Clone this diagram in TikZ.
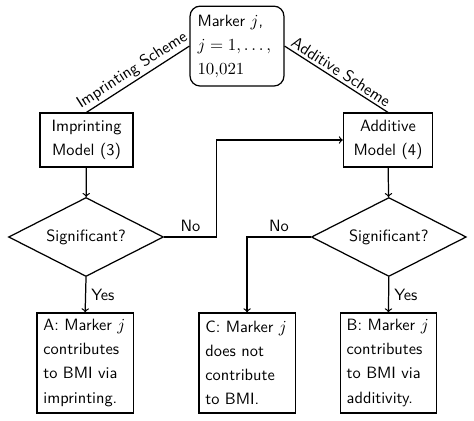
\documentclass[tikz,border=0pt]{standalone}
\usepackage{amsmath}
\usepackage{amssymb}
\usetikzlibrary{shapes.geometric}

\tikzset{
	every node/.style={font=\sffamily\fontsize{10.6}{15.6}\selectfont},
	modelbox/.style={draw, thick, align=center, minimum height=1.23cm, inner sep=0pt},
	testbox/.style={draw, thick, diamond, aspect=2, inner sep=0pt, minimum width=3.53cm, minimum height=1.8cm},
	resultbox/.style={draw, thick, align=left, text width=1.9cm, inner xsep=0.145cm, minimum height=2.28cm},
	schemelabel/.style={midway, above, sloped, inner sep=1.5pt}
}

\begin{document}
\begin{tikzpicture}
			\useasboundingbox (0,0) rectangle (10.8,-9.59);
			\node[draw, thick, rounded corners=0.23cm, align=left, text width=1.8cm, inner xsep=0.17cm, minimum height=1.82cm] (mk) at (5.40,-1.05) {Marker $j$,\\ $j=1,\ldots,$\\ $10{,}021$};
			\node[modelbox, minimum width=2.12cm] (imp) at (1.97,-3.19) {Imprinting\\ Model (3)};
			\node[modelbox, minimum width=2.03cm] (add) at (8.84,-3.19) {Additive\\ Model (4)};
			\node[testbox] (sigi) at (1.96,-5.40) {Significant?};
			\node[testbox] (siga) at (8.86,-5.40) {Significant?};
			\node[resultbox] (resa) at (1.94,-8.27) {A: Marker $j$\\ contributes\\ to BMI via\\ imprinting.};
			\node[resultbox] (resc) at (5.63,-8.27) {C: Marker $j$\\ does not\\ contribute\\ to BMI.};
			\node[resultbox] (resb) at (8.85,-8.27) {B: Marker $j$\\ contributes\\ to BMI via\\ additivity.};
			\coordinate (turn) at (4.94,-5.40);
			\draw[thick] (mk.west) -- node[schemelabel] {Imprinting Scheme} (imp.north);
			\draw[thick] (mk.east) -- node[schemelabel] {Additive Scheme} (add.north);
			\draw[thick,->] (imp) -- (sigi);
			\draw[thick,->] (add) -- (siga);
			\draw[thick,->] (sigi.south) -- node[right] {Yes} (resa.north);
			\draw[thick,->] (siga.south) -- node[right] {Yes} (resb.north);
			\draw[thick,->] (sigi.east) -- node[above] {No} (turn) |- (add.west);
			\draw[thick,->] (siga.west) -| node[pos=0.25, above] {No} (resc.north);
			\end{tikzpicture}
\end{document}
